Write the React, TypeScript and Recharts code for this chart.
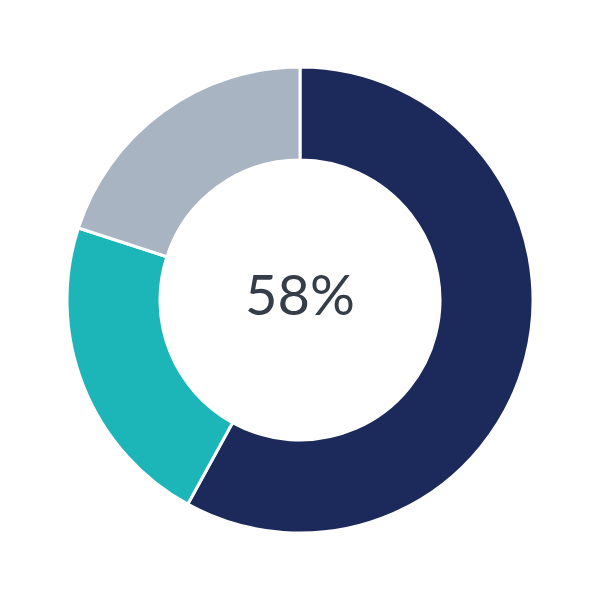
import React from "react";
import { PieChart, Pie, Cell } from "recharts";

const categories = ["A", "B", "C"];
const values = [58, 22, 20];
const colors = ["#1b2a5a", "#1cb5b8", "#a9b4c3"];
const centerLabel = "58%";

const data = categories.map((name, i) => ({ name, value: values[i] }));

export default function App() {
  return (
    <div style={{ position: "absolute", left: 0, top: 0, width: 600, height: 600, background: "#fff" }}>
      <PieChart width={600} height={600}>
        <Pie
          data={data}
          dataKey="value"
          cx={295}
          cy={295}
          innerRadius={140}
          outerRadius={233}
          startAngle={90}
          endAngle={-270}
          stroke="#ffffff"
          strokeWidth={3}
          isAnimationActive={false}
        >
          {data.map((d, i) => (
            <Cell key={d.name} fill={colors[i]} />
          ))}
        </Pie>
        <text
          x={300}
          y={293}
          textAnchor="middle"
          dominantBaseline="central"
          fontFamily="Lato"
          fontSize={56}
          fill="#343d48"
        >
          {centerLabel}
        </text>
      </PieChart>
    </div>
  );
}
